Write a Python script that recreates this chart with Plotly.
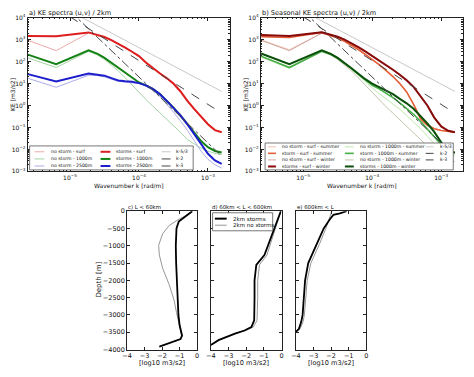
import plotly.graph_objects as go

W, H = 474, 377
FONT = "DejaVu Sans"

def px(x):
    return x / W

def py(y):
    return 1 - y / H

# ---------------- data: spectra (wavenumber, KE as log10 exponents) ----------------
k = [2.45e-6, 6.3e-6, 1.86e-5, 2.51e-5, 3.16e-5, 3.98e-5, 5.01e-5, 6.31e-5, 7.94e-5, 1.0e-4, 1.26e-4,
     1.58e-4, 2.0e-4, 2.51e-4, 3.16e-4, 3.98e-4, 5.01e-4, 6.31e-4, 7.94e-4, 1.0e-3, 1.26e-3, 1.58e-3]

# panel a
a_nostorm_surf = [2.97, 2.50, 3.30, 3.20, 3.10, 2.96, 2.80, 2.62, 2.43, 2.22, 1.93, 1.67, 1.44, 1.22, 0.96, 0.60, 0.17, -0.20, -0.56, -0.88, -1.13, -1.20]
a_nostorm_1000 = [2.17, 1.73, 2.47, 2.30, 2.10, 1.86, 1.58, 1.26, 0.92, 0.60, 0.28, -0.02, -0.32, -0.62, -0.92, -1.22, -1.55, -1.75, -1.94, -2.08, -2.18, -2.24]
a_nostorm_2500 = [1.24, 0.83, 1.38, 1.36, 1.30, 1.20, 1.10, 1.07, 1.05, 1.00, 0.88, 0.70, 0.42, 0.08, -0.30, -0.70, -1.12, -1.60, -2.08, -2.45, -2.70, -2.85]
a_storm_surf = [3.17, 3.16, 3.33, 3.22, 3.12, 2.98, 2.82, 2.64, 2.45, 2.25, 1.96, 1.70, 1.47, 1.25, 1.00, 0.65, 0.22, -0.15, -0.52, -0.85, -1.12, -1.22]
a_storm_1000 = [2.32, 1.88, 2.51, 2.35, 2.17, 1.95, 1.70, 1.48, 1.25, 1.05, 0.92, 0.76, 0.52, 0.22, -0.10, -0.45, -0.85, -1.25, -1.62, -1.90, -2.07, -2.14]
a_storm_2500 = [1.43, 1.10, 1.46, 1.42, 1.36, 1.25, 1.14, 1.10, 1.08, 1.02, 0.92, 0.76, 0.52, 0.22, -0.10, -0.45, -0.85, -1.30, -1.78, -2.20, -2.50, -2.66]

# panel b
b_nostorm_surf_summer = [2.99, 2.54, 3.30, 3.18, 3.06, 2.91, 2.73, 2.53, 2.31, 2.08, 1.84, 1.58, 1.30, 0.98, 0.60, 0.08, -0.55, -0.86, -1.04, -1.13, -1.18, -1.22]
b_storm_surf_summer = [3.14, 3.10, 3.33, 3.20, 3.08, 2.93, 2.75, 2.55, 2.33, 2.10, 1.86, 1.60, 1.32, 1.00, 0.62, 0.05, -0.60, -0.90, -1.06, -1.14, -1.19, -1.22]
b_nostorm_surf_winter = [2.97, 2.50, 3.30, 3.20, 3.11, 2.98, 2.82, 2.64, 2.45, 2.25, 2.04, 1.83, 1.61, 1.38, 1.12, 0.82, 0.42, -0.03, -0.56, -0.95, -1.14, -1.20]
b_storm_surf_winter = [3.21, 3.17, 3.34, 3.22, 3.13, 3.00, 2.84, 2.66, 2.47, 2.27, 2.06, 1.85, 1.63, 1.40, 1.15, 0.85, 0.45, 0.00, -0.55, -0.95, -1.15, -1.22]
b_nostorm_1000_summer = [2.20, 1.70, 2.47, 2.32, 2.14, 1.92, 1.66, 1.38, 1.08, 0.80, 0.55, 0.32, 0.09, -0.17, -0.45, -0.73, -1.05, -1.40, -1.75, -2.05, -2.22, -2.28]
b_storm_1000_summer = [2.25, 1.73, 2.47, 2.32, 2.15, 1.93, 1.68, 1.42, 1.15, 0.92, 0.76, 0.58, 0.36, 0.12, -0.12, -0.40, -0.72, -1.08, -1.42, -1.78, -2.05, -2.15]
b_nostorm_1000_winter = [2.22, 1.75, 2.47, 2.30, 2.10, 1.86, 1.58, 1.26, 0.92, 0.58, 0.25, -0.05, -0.35, -0.65, -0.95, -1.25, -1.55, -1.85, -2.10, -2.30, -2.45, -2.55]
b_storm_1000_winter = [2.37, 1.88, 2.51, 2.35, 2.17, 1.95, 1.70, 1.45, 1.20, 1.00, 0.85, 0.70, 0.52, 0.30, 0.10, -0.15, -0.48, -0.82, -1.20, -1.68, -2.05, -2.15]

# reference slopes
k_ref = [1.0e-5, 1.58e-3]
ref_k53 = [2.0e4, 4.4]
ref_k2 = [1.1e4, 0.45]
ref_k3 = [2.0e4, 5.0e-3]

# ---------------- data: depth profiles (log10 KE vs depth) ----------------
c_storm_depth = [0, -100, -200, -300, -500, -1000, -1500, -2000, -2500, -3000, -3300, -3500, -3600, -3700, -3770, -3850, -3915]
c_storm = [-0.28, -0.55, -0.85, -1.05, -1.18, -1.22, -1.20, -1.16, -1.12, -1.07, -1.00, -0.88, -0.86, -0.95, -1.31, -1.79, -2.16]
c_nostorm_depth = [0, -85, -227, -415, -650, -985, -1270, -1650, -2120, -2590, -2930, -3300, -3500, -3600, -3700, -3770, -3850, -3915]
c_nostorm = [-0.28, -0.47, -1.03, -1.60, -1.97, -2.20, -2.16, -1.97, -1.60, -1.31, -1.18, -1.02, -0.90, -0.88, -0.96, -1.31, -1.79, -2.16]

d_depth = [0, -300, -600, -900, -1270, -1550, -2000, -2500, -3000, -3160, -3350, -3450, -3540, -3640, -3730, -3870]
d_storm = [-0.04, -0.27, -0.50, -0.73, -0.97, -1.43, -1.53, -1.53, -1.52, -1.55, -1.71, -2.10, -2.64, -3.10, -3.57, -4.00]
d_nostorm = [-0.04, -0.22, -0.43, -0.62, -0.83, -1.25, -1.35, -1.35, -1.35, -1.39, -1.60, -2.02, -2.60, -3.08, -3.56, -4.00]

e_storm_depth = [0, -65, -105, -227, -500, -936, -1500, -2000, -2500, -3000, -3200, -3400, -3490]
e_storm = [-1.12, -1.50, -1.87, -2.06, -2.42, -2.80, -3.30, -3.48, -3.55, -3.62, -3.70, -3.83, -4.00]
e_nostorm_depth = [0, -500, -936, -1500, -2000, -2500, -3000, -3200, -3400, -3490]
e_nostorm = [-1.96, -2.30, -2.65, -3.15, -3.36, -3.44, -3.52, -3.60, -3.76, -4.00]

# ---------------- styles ----------------
C = {
    "a_ns_surf": "rgb(236,170,170)", "a_ns_1000": "rgb(165,212,165)", "a_ns_2500": "rgb(172,172,232)",
    "a_s_surf": "rgb(222,30,30)", "a_s_1000": "rgb(20,130,20)", "a_s_2500": "rgb(30,30,205)",
    "k53": "rgb(200,200,200)", "k2": "rgb(70,70,70)", "k3": "rgb(70,70,70)",
    "b_ns_surf_su": "rgb(242,196,178)", "b_s_surf_su": "rgb(228,95,55)",
    "b_ns_surf_wi": "rgb(205,165,160)", "b_s_surf_wi": "rgb(135,10,10)",
    "b_ns_1000_su": "rgb(190,232,170)", "b_s_1000_su": "rgb(70,175,70)",
    "b_ns_1000_wi": "rgb(195,195,172)", "b_s_1000_wi": "rgb(10,80,10)",
}

fig = go.Figure()

def add(xa, ya, x, y, color, width, dash="solid"):
    fig.add_trace(go.Scatter(x=x, y=y, mode="lines", xaxis=xa, yaxis=ya,
                             line=dict(color=color, width=width, dash=dash),
                             showlegend=False, hoverinfo="skip"))

def p10(v):
    return [10 ** e for e in v]

# panel a
add("x", "y", k, p10(a_nostorm_surf), C["a_ns_surf"], 1)
add("x", "y", k, p10(a_nostorm_1000), C["a_ns_1000"], 1)
add("x", "y", k, p10(a_nostorm_2500), C["a_ns_2500"], 1)
add("x", "y", k, p10(a_storm_surf), C["a_s_surf"], 2)
add("x", "y", k, p10(a_storm_1000), C["a_s_1000"], 2)
add("x", "y", k, p10(a_storm_2500), C["a_s_2500"], 2)
add("x", "y", k_ref, ref_k53, C["k53"], 1)
add("x", "y", k_ref, ref_k2, C["k2"], 1, "dash")
add("x", "y", k_ref, ref_k3, C["k3"], 1, "dashdot")

# panel b
add("x2", "y2", k, p10(b_nostorm_surf_summer), C["b_ns_surf_su"], 1)
add("x2", "y2", k, p10(b_nostorm_surf_winter), C["b_ns_surf_wi"], 1)
add("x2", "y2", k, p10(b_nostorm_1000_summer), C["b_ns_1000_su"], 1)
add("x2", "y2", k, p10(b_nostorm_1000_winter), C["b_ns_1000_wi"], 1)
add("x2", "y2", k, p10(b_storm_surf_summer), C["b_s_surf_su"], 1.6)
add("x2", "y2", k, p10(b_storm_1000_summer), C["b_s_1000_su"], 1.6)
add("x2", "y2", k, p10(b_storm_surf_winter), C["b_s_surf_wi"], 2)
add("x2", "y2", k, p10(b_storm_1000_winter), C["b_s_1000_wi"], 2)
add("x2", "y2", k_ref, ref_k53, C["k53"], 1)
add("x2", "y2", k_ref, ref_k2, C["k2"], 1, "dash")
add("x2", "y2", k_ref, ref_k3, C["k3"], 1, "dashdot")

# bottom panels
GRAY = "rgb(150,150,150)"
add("x3", "y3", c_nostorm, c_nostorm_depth, GRAY, 1)
add("x3", "y3", c_storm, c_storm_depth, "black", 1.8)
add("x4", "y4", d_nostorm, d_depth, GRAY, 1)
add("x4", "y4", d_storm, d_depth, "black", 1.8)
add("x5", "y5", e_nostorm, e_nostorm_depth, GRAY, 1)
add("x5", "y5", e_storm, e_storm_depth, "black", 1.8)

# ---------------- axes ----------------
AX = "#222222"
def sup(n):
    s = str(n).replace("-", "\u2212")
    return "10<sup>" + s + "</sup>"

logx_ticks = [1e-5, 1e-4, 1e-3]
logy_ticks = [1e-3, 1e-2, 1e-1, 1, 10, 100, 1e3, 1e4]
common = dict(showline=True, linecolor=AX, linewidth=1, mirror="allticks", ticks="inside",
              ticklen=3, tickcolor=AX, showgrid=False, zeroline=False,
              tickfont=dict(family=FONT, size=6, color="#111"))

def logx_axis(dom):
    return dict(common, type="log", domain=dom, range=[-5.614, -2.686],
                tickvals=logx_ticks, ticktext=[sup(-5), sup(-4), sup(-3)],
                minor=dict(ticks="inside", ticklen=1.5, tickcolor=AX, dtick="D1"))

def logy_axis(dom, anchor):
    return dict(common, type="log", domain=dom, range=[-3, 4], anchor=anchor,
                tickvals=logy_ticks, ticktext=[sup(e) for e in [-3, -2, -1, 0, 1, 2, 3, 4]],
                minor=dict(ticks="inside", ticklen=1.5, tickcolor=AX, dtick="D1"))

top_y = [py(171), py(14)]
bot_y = [py(353), py(211.7)]
depth_ticks = [0, -500, -1000, -1500, -2000, -2500, -3000, -3500, -4000]
depth_text = [("\u2212" + str(-d)) if d < 0 else "0" for d in depth_ticks]
xv_ticks = [-4, -3, -2, -1, 0]
xv_text = ["\u22124", "\u22123", "\u22122", "\u22121", "0"]

def lin_x(dom, anchor):
    return dict(common, domain=dom, range=[-4, 0], anchor=anchor, tickvals=xv_ticks, ticktext=xv_text,
                ticklabelstandoff=0, tickfont=dict(family=FONT, size=6.5, color="#111"))

def lin_y(dom, anchor, labels):
    return dict(common, domain=dom, range=[-4000, 0], anchor=anchor, tickvals=depth_ticks,
                ticktext=depth_text, showticklabels=labels,
                tickfont=dict(family=FONT, size=6.5, color="#111"))

fig.update_layout(
    width=W, height=H, margin=dict(l=0, r=0, t=0, b=0),
    paper_bgcolor="white", plot_bgcolor="white", showlegend=False,
    font=dict(family=FONT, color="#111"),
    xaxis=dict(logx_axis([px(23), px(228)]), anchor="y"),
    yaxis=logy_axis(top_y, "x"),
    xaxis2=dict(logx_axis([px(259.7), px(464.7)]), anchor="y2"),
    yaxis2=logy_axis(top_y, "x2"),
    xaxis3=lin_x([px(124), px(195)], "y3"),
    yaxis3=dict(lin_y(bot_y, "x3", True)),
    xaxis4=lin_x([px(209), px(280.7)], "y4"),
    yaxis4=dict(lin_y(bot_y, "x4", False)),
    xaxis5=lin_x([px(295.3), px(366.7)], "y5"),
    yaxis5=dict(lin_y(bot_y, "x5", False)),
)

# ---------------- text ----------------
ann = []
def text(x, y, s, size, xanchor="left", yanchor="middle", angle=0):
    ann.append(dict(x=px(x), y=py(y), xref="paper", yref="paper", text=s, showarrow=False,
                    xanchor=xanchor, yanchor=yanchor, textangle=angle,
                    font=dict(family=FONT, size=size, color="#111")))

text(22, 9, "a) KE spectra (u,v) / 2km", 6.6)
text(258.5, 9, "b) Seasonal KE spectra (u,v) / 2km", 6.6)
text(125.5, 185.5, "Wavenumber k [rad/m]", 6, "center")
text(362, 185.5, "Wavenumber k [rad/m]", 6, "center")
text(7, 92, "KE [m3/s2]", 6, "center", "middle", -90)
text(243.5, 92, "KE [m3/s2]", 6, "center", "middle", -90)

text(123, 207, "c) L < 60km", 5.4)
text(208, 207, "d) 60km < L < 600km", 5.4)
text(294, 207, "e) 600km < L", 5.4)
text(159.5, 366.5, "[log10 m3/s2]", 6.6, "center")
text(245, 366.5, "[log10 m3/s2]", 6.6, "center")
text(331, 366.5, "[log10 m3/s2]", 6.6, "center")
text(95, 282, "Depth [m]", 7, "center", "middle", -90)

# ---------------- legends (drawn boxes) ----------------
shapes = []
def box(x0, y0, x1, y1):
    shapes.append(dict(type="rect", xref="paper", yref="paper", x0=px(x0), x1=px(x1), y0=py(y1), y1=py(y0),
                       fillcolor="white", line=dict(color="#555", width=0.8), layer="above"))

def entry(x0, x1, y, tx, label, color, width, dash="solid", size=4.6):
    shapes.append(dict(type="line", xref="paper", yref="paper", x0=px(x0), x1=px(x1), y0=py(y), y1=py(y),
                       line=dict(color=color, width=width, dash=dash), layer="above"))
    text(tx, y, label, size)

box(25, 145, 191, 169.5)
ra = [151, 158.3, 165.5]
entry(30, 40, ra[0], 45, "no storm - surf", C["a_ns_surf"], 1)
entry(30, 40, ra[1], 45, "no storm - 1000m", C["a_ns_1000"], 1)
entry(30, 40, ra[2], 45, "no storm - 2500m", C["a_ns_2500"], 1)
entry(97, 107, ra[0], 111, "storms - surf", C["a_s_surf"], 2)
entry(97, 107, ra[1], 111, "storms - 1000m", C["a_s_1000"], 2)
entry(97, 107, ra[2], 111, "storms - 2500m", C["a_s_2500"], 2)
entry(159, 168, ra[0], 172, "k-5/3", C["k53"], 1)
entry(159, 168, ra[1], 172, "k-2", C["k2"], 1, "dash")
entry(159, 168, ra[2], 172, "k-3", C["k3"], 1, "dashdot")

box(264, 142, 455, 169.5)
rb = [145.9, 152.6, 159.3, 166.0]
entry(267, 275, rb[0], 279, "no storm - surf - summer", C["b_ns_surf_su"], 1)
entry(267, 275, rb[1], 279, "storm - surf - summer", C["b_s_surf_su"], 1.6)
entry(267, 275, rb[2], 279, "no storm - surf - winter", C["b_ns_surf_wi"], 1)
entry(267, 275, rb[3], 279, "storms - surf - winter", C["b_s_surf_wi"], 2)
entry(345, 354, rb[0], 358, "no storm - 1000m - summer", C["b_ns_1000_su"], 1)
entry(345, 354, rb[1], 358, "storm - 1000m - summer", C["b_s_1000_su"], 1.6)
entry(345, 354, rb[2], 358, "no storm - 1000m - winter", C["b_ns_1000_wi"], 1)
entry(345, 354, rb[3], 358, "storms - 1000m - winter", C["b_s_1000_wi"], 2)
entry(427, 435, rb[0], 439, "k-5/3", C["k53"], 1)
entry(427, 435, rb[1], 439, "k-2", C["k2"], 1, "dash")
entry(427, 435, rb[2], 439, "k-3", C["k3"], 1, "dashdot")

box(210.7, 213.3, 271.7, 231.7)
entry(213, 225, 219.3, 229, "2km storms", "black", 2, size=5.5)
entry(213, 225, 226, 229, "2km no storms", GRAY, 1, size=5.5)

fig.update_layout(annotations=ann, shapes=shapes)
fig.write_html("out.html", config={"displayModeBar": False},
               post_script="document.body.style.margin='0';document.body.style.overflow='hidden';")
